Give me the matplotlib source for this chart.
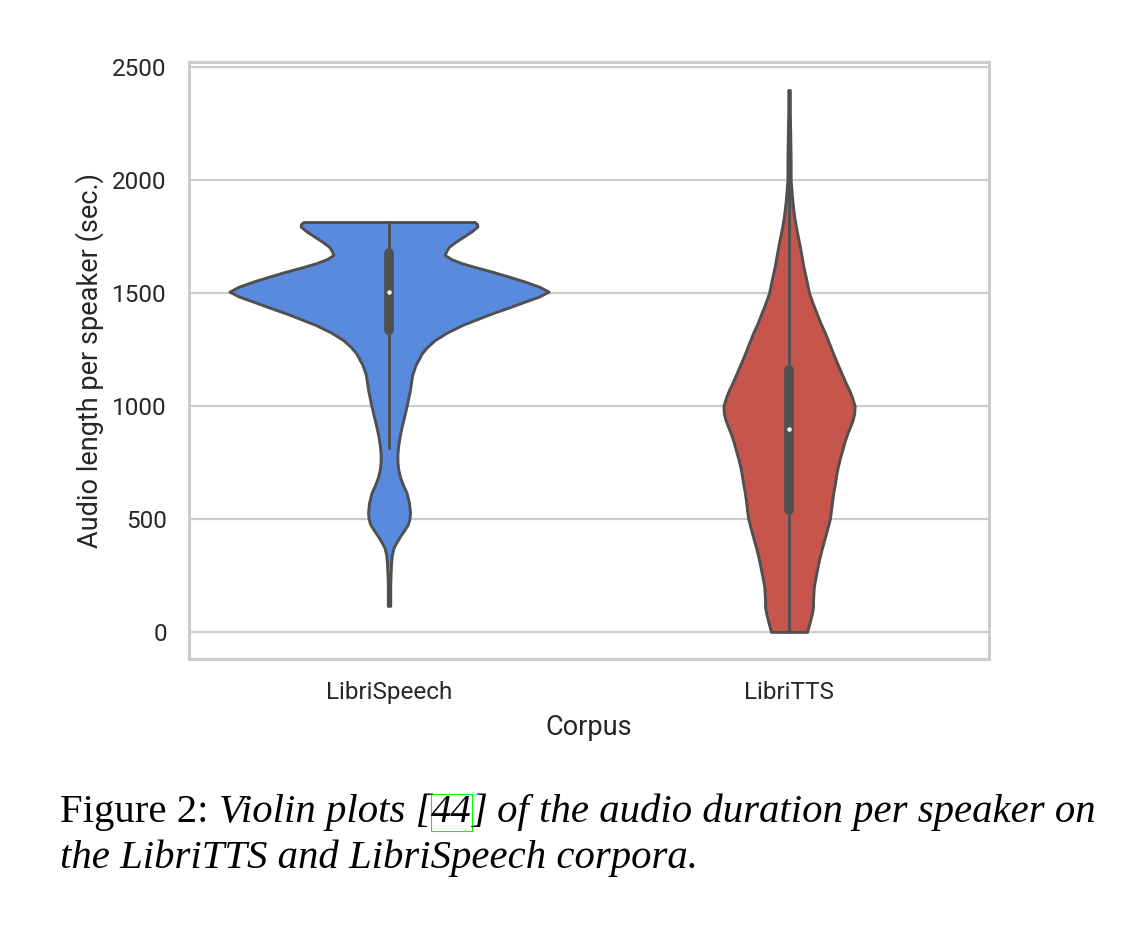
import matplotlib
matplotlib.use("Agg")
import matplotlib.pyplot as plt
from matplotlib.patches import Rectangle

# corpus names and colours
corpora = ["LibriSpeech", "LibriTTS"]
fill_colors = ["#588ADE", "#C6554B"]

# violin outlines: value (sec.) and half width (x units)
ls_vals = [1814, 1805, 1794, 1772, 1749, 1727, 1705, 1685, 1668, 1650, 1631,
           1612, 1594, 1572, 1550, 1528, 1506, 1484, 1462, 1436, 1410, 1384,
           1358, 1325, 1292, 1262, 1233, 1180, 1138, 1068, 1000, 955, 911, 870,
           824, 790, 754, 720, 685, 650, 615, 570, 528, 500, 476, 450, 423, 395,
           371, 340, 301, 260, 214, 160, 115]
ls_half = [0.214, 0.220, 0.221, 0.206, 0.186, 0.167, 0.150, 0.143, 0.139, 0.155,
           0.183, 0.220, 0.258, 0.300, 0.340, 0.375, 0.399, 0.375, 0.340, 0.300,
           0.258, 0.220, 0.183, 0.145, 0.115, 0.096, 0.082, 0.066, 0.058, 0.052,
           0.044, 0.038, 0.032, 0.027, 0.023, 0.021, 0.021, 0.023, 0.0275, 0.035,
           0.044, 0.050, 0.0525, 0.051, 0.047, 0.038, 0.0275, 0.018, 0.011, 0.007,
           0.005, 0.004, 0.003, 0.003, 0.003]

tts_vals = [2398, 2300, 2200, 2088, 2000, 1911, 1850, 1794, 1705, 1616, 1560,
            1500, 1455, 1410, 1365, 1322, 1278, 1233, 1190, 1145, 1100, 1071,
            1040, 1000, 968, 938, 910, 880, 843, 805, 768, 731, 695, 658, 621,
            584, 540, 500, 453, 407, 363, 319, 275, 230, 200, 172, 140, 111,
            80, 53, 25, 0]
tts_half = [0.002, 0.002, 0.003, 0.004, 0.004, 0.008, 0.012, 0.017, 0.027, 0.036,
            0.043, 0.050, 0.059, 0.069, 0.079, 0.090, 0.100, 0.110, 0.120, 0.131,
            0.142, 0.150, 0.157, 0.164, 0.163, 0.159, 0.153, 0.146, 0.139, 0.133,
            0.127, 0.122, 0.118, 0.115, 0.111, 0.108, 0.105, 0.102, 0.095, 0.088,
            0.081, 0.075, 0.070, 0.065, 0.062, 0.061, 0.060, 0.060, 0.057, 0.053,
            0.049, 0.045]

# inner box statistics
q1 = [1335, 540]
medians = [1506, 897]
q3 = [1677, 1160]
whisk_lo = [815, 0]
whisk_hi = [1814, 2140]

y_ticks = [0, 500, 1000, 1500, 2000, 2500]

line_gray = "#505050"
grid_gray = "#cccccc"
text_gray = "#262626"

plt.rcParams["font.family"] = ["Roboto", "DejaVu Sans"]

fig = plt.figure(figsize=(11.47, 9.33), dpi=100)
ax = fig.add_axes([0.1648, 0.2937, 0.6975, 0.6398])

profiles = [(ls_vals, ls_half), (tts_vals, tts_half)]
for i, (vals, half) in enumerate(profiles):
    left = [i - w for w in half]
    right = [i + w for w in half]
    ax.fill_betweenx(vals, left, right, facecolor=fill_colors[i],
                     edgecolor=line_gray, linewidth=2.1, zorder=2,
                     joinstyle="round")
    ax.plot([i, i], [whisk_lo[i], whisk_hi[i]], color=line_gray, lw=2.1,
            solid_capstyle="round", zorder=3)
    ax.plot([i, i], [q1[i], q3[i]], color=line_gray, lw=7,
            solid_capstyle="round", zorder=4)
    ax.plot([i], [medians[i]], "o", color="white", markersize=3.2,
            markeredgewidth=0, zorder=5)

ax.set_xlim(-0.5, 1.5)
ax.set_ylim(-120, 2522)
ax.set_xticks([0, 1])
ax.set_xticklabels(corpora)
ax.set_yticks(y_ticks)
ax.yaxis.grid(True, color=grid_gray, lw=1.6, zorder=0)
ax.set_axisbelow(True)
ax.tick_params(length=0, labelsize=17.5, colors=text_gray)
ax.tick_params(axis="y", pad=16)
ax.tick_params(axis="x", pad=16)
for s in ax.spines.values():
    s.set_color(grid_gray)
    s.set_linewidth(2.2)
ax.set_xlabel("Corpus", fontsize=19.5, color=text_gray, labelpad=7)
ax.set_ylabel("Audio length per speaker (sec.)", fontsize=19.5,
              color=text_gray, labelpad=6)

# caption in serif, placed piece by piece
cap_font = ["Liberation Serif", "DejaVu Serif"]
cap_size = 29.3
renderer = fig.canvas.get_renderer()
W, H = fig.get_size_inches() * fig.dpi

def put(x_px, y_px, s, style="normal"):
    t = fig.text(x_px / W, 1 - y_px / H, s, family=cap_font, size=cap_size,
                 style=style, color="black", va="baseline", ha="left")
    bb = t.get_window_extent(renderer)
    return t, bb

x = 60
base1 = 822
_, bb = put(x, base1, "Figure 2: ")
x = bb.x1
_, bb = put(x, base1, "Violin plots [", "italic")
x = bb.x1
t44, bb44 = put(x, base1, "44", "italic")
fig.patches.append(Rectangle((bb44.x0 / W, bb44.y0 / H), bb44.width / W,
                             bb44.height / H, transform=fig.transFigure,
                             fill=False, edgecolor="#00ff00", lw=0.8))
x = bb44.x1
put(x, base1, "] of the audio duration per speaker on", "italic")
put(60, 868, "the LibriTTS and LibriSpeech corpora.", "italic")

fig.savefig("out.png", dpi=100, facecolor="white")
